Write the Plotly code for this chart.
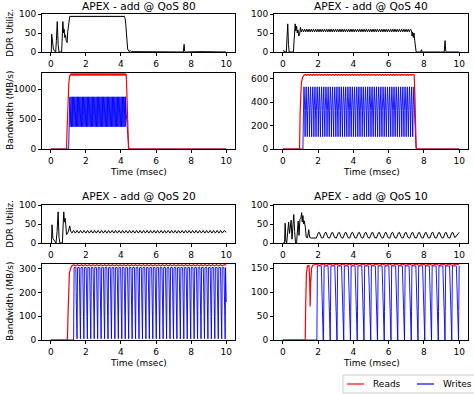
import plotly.graph_objects as go

# ---------------- data ----------------
# Each irregular part is a list of (time msec, value) vertices.
# Repeating parts are given as: start, end, number of cycles, and one read cycle shape
# (fractions of a cycle, values).

# ---- QoS 80 ----
q80_util_pre = [(0, 0), (0.03, 0), (0.05, 47), (0.1, 15), (0.15, 8), (0.2, 3), (0.28, 0), (0.32, 30),
                (0.37, 80), (0.42, 20), (0.47, 0), (0.62, 0), (0.65, 40), (0.69, 80), (0.73, 50),
                (0.76, 60), (0.8, 38), (0.84, 45), (0.88, 30), (0.93, 25), (0.97, 55), (1.03, 88),
                (1.08, 93)]
q80_util_osc = (1.08, 4.2, 80, [0, 0.5], [92, 95])
q80_util_post = [(4.2, 93), (4.24, 88), (4.28, 70), (4.33, 30), (4.38, 8), (4.45, 2), (4.55, 3),
                 (4.6, 1), (4.8, 1), (5.0, 0), (7.55, 0), (7.6, 20), (7.63, 2), (7.7, 0), (8.5, 1),
                 (10, 0)]
q80_read_pre = [(0, 0), (0.9, 0), (0.92, 250), (0.95, 560), (0.98, 850), (1.03, 1100), (1.08, 1220),
                (1.12, 1240)]
q80_read_osc = (1.12, 4.3, 60, [0, 0.5], [1236, 1248])
q80_read_post = [(4.3, 1240), (4.33, 1000), (4.37, 500), (4.4, 150), (4.43, 20), (4.47, 0), (10, 0)]
q80_write_pre = [(0, 0), (1.02, 0), (1.04, 300), (1.07, 600)]
q80_write_osc = (1.07, 4.28, 90, [0, 0.5], [370, 870])
q80_write_post = [(4.3, 600), (4.35, 350), (4.4, 100), (4.45, 0), (10, 0)]

# ---- QoS 40 ----
q40_util_pre = [(0, 3), (0.08, 3), (0.12, 0), (0.2, 0), (0.24, 40), (0.28, 74), (0.32, 20), (0.36, 0),
                (0.6, 0), (0.65, 40), (0.7, 74), (0.74, 55), (0.78, 68), (0.82, 50), (0.86, 58),
                (0.9, 42), (0.95, 45), (1.0, 65), (1.05, 58)]
q40_util_osc = (1.05, 7.3, 50, [0, 0.5], [53, 60])
q40_util_post = [(7.3, 56), (7.33, 42), (7.36, 52), (7.4, 38), (7.44, 50), (7.48, 30), (7.52, 5),
                 (7.56, 0), (7.82, 0), (7.86, 6), (7.9, 0), (8.2, 1), (8.3, 0), (9.15, 0), (9.2, 30),
                 (9.24, 2), (9.3, 0), (10, 0)]
q40_read_pre = [(0, 0), (0.95, 0), (0.98, 300), (1.0, 480), (1.05, 560), (1.12, 610), (1.2, 630)]
q40_read_osc = (1.2, 7.45, 40, [0, 0.5], [628, 636])
q40_read_post = [(7.45, 632), (7.48, 500), (7.52, 200), (7.56, 20), (7.6, 0), (10, 0)]
q40_write_pre = [(0, 0), (1.14, 0), (1.17, 300), (1.2, 530)]
q40_write_osc = (1.2, 7.43, 50, [0, 0.35, 0.5, 0.65], [530, 330, 105, 330])
q40_write_post = [(7.43, 530), (7.47, 300), (7.52, 80), (7.56, 0), (10, 0)]

# ---- QoS 20 ----
q20_util_pre = [(0, 0), (0.04, 0), (0.07, 48), (0.12, 12), (0.18, 8), (0.24, 3), (0.3, 0), (0.36, 30),
                (0.42, 82), (0.47, 15), (0.52, 0), (0.66, 0), (0.7, 50), (0.74, 82), (0.78, 55),
                (0.82, 65), (0.86, 45), (0.9, 22), (0.95, 25), (1.0, 30), (1.08, 45), (1.14, 30),
                (1.2, 28)]
q20_util_osc = (1.2, 9.98, 44, [0, 0.5], [26, 33])
q20_util_post = [(10, 28)]
q20_read_pre = [(0, 0), (0.95, 0), (0.98, 100), (1.02, 230), (1.06, 280), (1.12, 300), (1.2, 313)]
q20_read_osc = (1.2, 10, 40, [0, 0.5], [312, 317])
q20_read_post = [(10, 315)]
q20_write_pre = [(0, 0), (1.3, 0), (1.33, 305)]
q20_write_osc = (1.33, 9.97, 44, [0, 0.5, 0.6, 0.7, 0.78, 0.84, 0.9, 0.95],
                 [305, 305, 200, 60, 10, 5, 100, 305])
q20_write_post = [(10, 160)]

# ---- QoS 10 ----
q10_util_pre = [(0, 0), (0.1, 0), (0.13, 52), (0.17, 5), (0.22, 0), (0.28, 30), (0.33, 55), (0.38, 25),
                (0.42, 40), (0.47, 60), (0.52, 10), (0.56, 45), (0.62, 75), (0.67, 30), (0.72, 0),
                (0.78, 0), (0.82, 40), (0.87, 58), (0.92, 20), (0.97, 62), (1.02, 65), (1.07, 80),
                (1.1, 55), (1.14, 72), (1.18, 50), (1.22, 58), (1.28, 40), (1.33, 15), (1.4, 14),
                (1.47, 35), (1.52, 15), (1.6, 13), (1.9, 13)]
q10_util_osc = (1.9, 9.85, 21, [0, 0.15, 0.3, 0.45, 0.6, 0.75], [13, 20, 27, 28, 22, 14])
q10_util_post = [(10, 28)]
q10_read_pre = [(0, 0), (1.27, 0), (1.3, 80), (1.34, 140), (1.4, 155), (1.48, 156), (1.52, 130),
                (1.55, 70), (1.58, 120), (1.63, 150), (1.7, 157)]
q10_read_osc = (1.7, 10, 22, [0, 0.5], [156, 159])
q10_read_post = [(10, 157)]
q10_write_pre = [(0, 0), (1.93, 0), (1.96, 155)]
q10_write_osc = (1.96, 10, 21, [0, 0.58, 0.63, 0.68, 0.74, 0.8, 0.86, 0.9, 0.94, 0.97],
                 [155, 155, 130, 80, 35, 10, 1, 0, 60, 140])
q10_write_post = [(10, 155)]

titles = ["APEX - add @ QoS 80", "APEX - add @ QoS 40", "APEX - add @ QoS 20", "APEX - add @ QoS 10"]
util_ticks = [0, 50, 100]
bw_ticks = [[0, 500, 1000], [0, 200, 400, 600], [0, 100, 200, 300], [0, 50, 100, 150]]
bw_tops = [1267, 648, 320, 159]
x_ticks = [0, 2, 4, 6, 8, 10]
legend_names = ["Reads", "Writes"]


def build(pre, osc, post):
    t = [p[0] for p in pre]
    v = [p[1] for p in pre]
    t0, t1, n, fr, vals = osc
    per = (t1 - t0) / n
    for k in range(n):
        for f, val in zip(fr, vals):
            t.append(t0 + (k + f) * per)
            v.append(val)
    t += [p[0] for p in post]
    v += [p[1] for p in post]
    return t, v


panels = [
    (q80_util_pre, q80_util_osc, q80_util_post, q80_read_pre, q80_read_osc, q80_read_post,
     q80_write_pre, q80_write_osc, q80_write_post),
    (q40_util_pre, q40_util_osc, q40_util_post, q40_read_pre, q40_read_osc, q40_read_post,
     q40_write_pre, q40_write_osc, q40_write_post),
    (q20_util_pre, q20_util_osc, q20_util_post, q20_read_pre, q20_read_osc, q20_read_post,
     q20_write_pre, q20_write_osc, q20_write_post),
    (q10_util_pre, q10_util_osc, q10_util_post, q10_read_pre, q10_read_osc, q10_read_post,
     q10_write_pre, q10_write_osc, q10_write_post),
]

W, H = 474, 394
FONT = "DejaVu Sans"
fig = go.Figure()

# panel geometry in pixels (left, right) and (top, bottom)
cols = [(42, 235), (274, 468), (42, 235), (274, 468)]
util_rows = [(14, 52), (14, 52), (205, 243), (205, 243)]
bw_rows = [(73, 149), (73, 149), (264, 340), (264, 340)]

RED = "#ff0000"
BLUE = "#0000ff"

layout = {}
for i, p in enumerate(panels):
    ua = 2 * i + 1
    ba = 2 * i + 2
    ut, uv = build(p[0], p[1], p[2])
    rt, rv = build(p[3], p[4], p[5])
    wt, wv = build(p[6], p[7], p[8])
    sfx_u = "" if ua == 1 else str(ua)
    sfx_b = str(ba)
    fig.add_trace(go.Scatter(x=ut, y=uv, mode="lines", line=dict(color="black", width=1),
                             xaxis="x" + sfx_u, yaxis="y" + sfx_u, showlegend=False))
    fig.add_trace(go.Scatter(x=wt, y=wv, mode="lines", line=dict(color=BLUE, width=0.9),
                             xaxis="x" + sfx_b, yaxis="y" + sfx_b, name="Writes", showlegend=False))
    fig.add_trace(go.Scatter(x=rt, y=rv, mode="lines", line=dict(color=RED, width=1.2),
                             xaxis="x" + sfx_b, yaxis="y" + sfx_b, name="Reads", showlegend=False))

    xl, xr = cols[i]
    xdom = [xl / W, xr / W]
    common = dict(showline=True, mirror=True, linecolor="black", linewidth=1, ticks="outside",
                  ticklen=3, tickwidth=1, tickcolor="black", showgrid=False, zeroline=False,
                  automargin=False, tickfont=dict(family=FONT, size=9, color="black"))
    ut_, ub_ = util_rows[i]
    bt_, bb_ = bw_rows[i]
    layout["xaxis" + sfx_u] = dict(domain=xdom, range=[-0.5, 10.5], tickvals=x_ticks,
                                   anchor="y" + sfx_u, **common)
    layout["yaxis" + sfx_u] = dict(domain=[1 - ub_ / H, 1 - ut_ / H], range=[0, 100],
                                   tickvals=util_ticks, anchor="x" + sfx_u, **common)
    layout["xaxis" + sfx_b] = dict(domain=xdom, range=[-0.5, 10.5], tickvals=x_ticks,
                                   anchor="y" + sfx_b, **common)
    layout["yaxis" + sfx_b] = dict(domain=[1 - bb_ / H, 1 - bt_ / H], range=[0, bw_tops[i]],
                                   tickvals=bw_ticks[i], anchor="x" + sfx_b, **common)

annotations = []
for i in range(4):
    xl, xr = cols[i]
    ty = 6 if i < 2 else 196
    annotations.append(dict(text=titles[i], x=(xl + xr) / 2 / W, y=1 - ty / H, xref="paper",
                            yref="paper", showarrow=False, xanchor="center", yanchor="middle",
                            font=dict(family=FONT, size=10.6, color="black")))
    tl = 172 if i < 2 else 363
    annotations.append(dict(text="Time (msec)", x=(xl + xr) / 2 / W, y=1 - tl / H, xref="paper",
                            yref="paper", showarrow=False, xanchor="center", yanchor="middle",
                            font=dict(family=FONT, size=9, color="black")))
for (uy, by) in [(33, 111), (224, 302)]:
    annotations.append(dict(text="DDR Utiliz.", x=10 / W, y=1 - uy / H, xref="paper", yref="paper",
                            showarrow=False, textangle=-90, xanchor="center", yanchor="middle",
                            font=dict(family=FONT, size=9, color="black")))
    annotations.append(dict(text="Bandwidth (MB/s)", x=10 / W, y=1 - by / H, xref="paper",
                            yref="paper", showarrow=False, textangle=-90, xanchor="center",
                            yanchor="middle", font=dict(family=FONT, size=9, color="black")))

# hand-drawn legend (box, two line samples, two labels)
shapes = [dict(type="rect", xref="paper", yref="paper", x0=343 / W, x1=480 / W, y0=1 - 393 / H,
               y1=1 - 375 / H, line=dict(color="#cccccc", width=1), fillcolor="white", layer="above")]
for (x0, x1, tx), col, name in zip([(347, 364, 371), (417, 434, 441)], [RED, BLUE], legend_names):
    shapes.append(dict(type="line", xref="paper", yref="paper", x0=x0 / W, x1=x1 / W,
                       y0=1 - 384 / H, y1=1 - 384 / H, line=dict(color=col, width=1.2),
                       layer="above"))
    annotations.append(dict(text=name, x=tx / W, y=1 - 384 / H, xref="paper", yref="paper",
                            showarrow=False, xanchor="left", yanchor="middle",
                            font=dict(family=FONT, size=9, color="black")))

fig.update_layout(
    width=W, height=H, margin=dict(l=0, r=0, t=0, b=0, autoexpand=False),
    paper_bgcolor="white", plot_bgcolor="white",
    font=dict(family=FONT, size=9, color="black"),
    annotations=annotations, shapes=shapes,
    showlegend=False,
    **layout,
)

fig.write_html("out.html", config={"displayModeBar": False},
               post_script="document.body.style.margin='0';document.body.style.overflow='hidden';")
